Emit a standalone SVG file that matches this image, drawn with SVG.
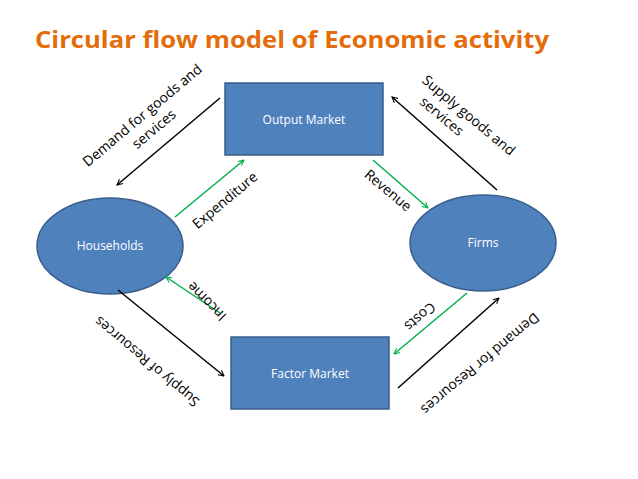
<svg xmlns="http://www.w3.org/2000/svg" width="638" height="479" viewBox="0 0 638 479">
<style>
.n{fill:#4f81bd;stroke:#385d8a;stroke-width:1.5}
.nt{font-family:"Open Sans","Liberation Sans",sans-serif;font-size:12px;fill:#fff;text-anchor:middle}
.l{font-family:"Open Sans","Liberation Sans",sans-serif;font-size:14px;fill:#000;text-anchor:middle}
.k{stroke:#000;stroke-width:1.5;fill:none;marker-end:url(#ak)}
.g{stroke:#00b050;stroke-width:1.5;fill:none;marker-end:url(#ag)}
</style>
<defs>
<marker id="ak" viewBox="0 0 10 10" refX="9" refY="5" markerWidth="7" markerHeight="7" orient="auto" markerUnits="userSpaceOnUse" ><path d="M1,1 L9,5 L1,9" fill="none" stroke="#000" stroke-width="1.5"/></marker>
<marker id="ag" viewBox="0 0 10 10" refX="9" refY="5" markerWidth="7" markerHeight="7" orient="auto" markerUnits="userSpaceOnUse"><path d="M1,1 L9,5 L1,9" fill="none" stroke="#00b050" stroke-width="1.5"/></marker>
</defs>
<rect width="638" height="479" fill="#fff"/>
<text x="35" y="48" font-family="'Open Sans','Liberation Sans',sans-serif" font-weight="bold" font-size="24" fill="#e46c0a" textLength="514" lengthAdjust="spacingAndGlyphs">Circular flow model of Economic activity</text>
<g id="output"><rect class="n" x="225" y="83" width="158" height="72"/><text class="nt" x="304" y="124">Output Market</text></g>
<g id="factor"><rect class="n" x="231" y="337" width="158" height="72"/><text class="nt" x="310" y="378">Factor Market</text></g>
<g id="households"><ellipse class="n" cx="110" cy="246" rx="73" ry="48"/><text class="nt" x="110" y="250">Households</text></g>
<g id="firms"><ellipse class="n" cx="483" cy="243" rx="73" ry="48"/><text class="nt" x="483" y="247">Firms</text></g>
<g id="connectors">
<line class="k" x1="220" y1="98" x2="117" y2="185"/>
<line class="g" x1="175" y1="217" x2="244" y2="160"/>
<line class="g" x1="373" y1="160" x2="428" y2="208"/>
<line class="k" x1="497" y1="190" x2="392" y2="97"/>
<line class="g" x1="220" y1="313" x2="166" y2="277"/>
<line class="k" x1="118" y1="290" x2="224" y2="376"/>
<line class="g" x1="467" y1="293" x2="394" y2="354"/>
<line class="k" x1="398" y1="388" x2="499" y2="298"/>
<text class="l" transform="translate(148,122) rotate(-40)"><tspan x="0" y="-4">Demand for goods and</tspan><tspan x="0" y="14">services</tspan></text>
<text class="l" transform="translate(228,204) rotate(-40)">Expenditure</text>
<text class="l" transform="translate(385,194) rotate(40)">Revenue</text>
<text class="l" transform="translate(463,122) rotate(40)"><tspan x="0" y="-4">Supply goods and</tspan><tspan x="-20" y="14">services</tspan></text>
<text class="l" transform="translate(210,298) rotate(225)">Income</text>
<text class="l" transform="translate(150,358) rotate(220)">Supply of Resources</text>
<text class="l" transform="translate(417,313) rotate(140)">Costs</text>
<text class="l" transform="translate(477,360) rotate(140)">Demand for Resources</text>
</g>
</svg>
